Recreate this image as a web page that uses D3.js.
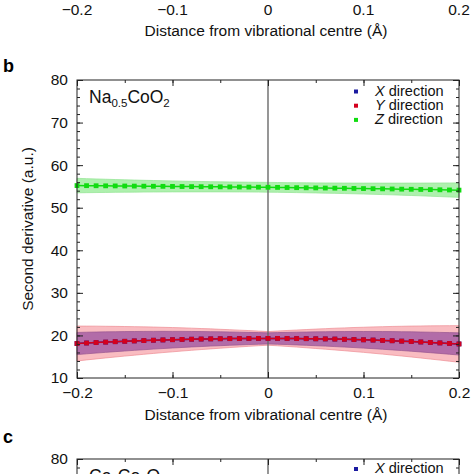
<!DOCTYPE html>
<html><head><meta charset="utf-8">
<script src="https://cdn.jsdelivr.net/npm/d3@7"></script>
<style>
html,body{margin:0;padding:0;background:#fff;}
svg{display:block;font-family:"Liberation Sans",Arial,Helvetica,sans-serif;}
</style></head>
<body>
<svg id="chart" width="474" height="474"></svg>
<script>
// ---- data (panel b: Na0.5CoO2) ----
const displacement = [-0.20,-0.19,-0.18,-0.17,-0.16,-0.15,-0.14,-0.13,-0.12,-0.11,-0.10,-0.09,-0.08,-0.07,-0.06,-0.05,-0.04,-0.03,-0.02,-0.01,0.00,
  0.01,0.02,0.03,0.04,0.05,0.06,0.07,0.08,0.09,0.10,0.11,0.12,0.13,0.14,0.15,0.16,0.17,0.18,0.19,0.20];
const xDirection = [18.10,18.22,18.33,18.43,18.53,18.62,18.71,18.79,18.87,18.94,19.00,19.06,19.11,19.15,19.19,19.22,19.25,19.27,19.29,19.30,19.30,
  19.30,19.29,19.27,19.24,19.21,19.18,19.14,19.09,19.04,18.97,18.91,18.83,18.75,18.66,18.57,18.46,18.35,18.24,18.12,18.00];
const yDirection = [18.10,18.22,18.33,18.43,18.53,18.62,18.71,18.79,18.87,18.94,19.00,19.06,19.11,19.15,19.19,19.22,19.25,19.27,19.29,19.30,19.30,
  19.30,19.29,19.27,19.24,19.21,19.18,19.14,19.09,19.04,18.97,18.91,18.83,18.75,18.66,18.57,18.46,18.35,18.24,18.12,18.00];
const zDirection = [55.20,55.18,55.16,55.14,55.12,55.10,55.08,55.06,55.04,55.02,55.00,54.98,54.96,54.94,54.92,54.90,54.88,54.86,54.84,54.82,54.80,
  54.77,54.74,54.71,54.68,54.65,54.62,54.59,54.56,54.53,54.50,54.47,54.43,54.40,54.36,54.33,54.29,54.25,54.21,54.17,54.13];
const xError = [2.60,2.54,2.47,2.41,2.34,2.28,2.21,2.15,2.08,2.02,1.95,1.89,1.82,1.76,1.69,1.63,1.56,1.50,1.43,1.37,1.30,
  1.37,1.43,1.50,1.56,1.63,1.69,1.76,1.82,1.89,1.95,2.02,2.08,2.15,2.21,2.28,2.34,2.41,2.47,2.54,2.60];
const yError = [4.10,3.97,3.85,3.72,3.60,3.47,3.35,3.22,3.10,2.97,2.85,2.72,2.60,2.47,2.35,2.22,2.10,1.97,1.85,1.72,1.60,
  1.73,1.87,2.00,2.14,2.28,2.41,2.55,2.68,2.82,2.95,3.09,3.22,3.36,3.49,3.63,3.76,3.90,4.03,4.17,4.30];
const zError = [1.70,1.65,1.60,1.55,1.50,1.46,1.42,1.38,1.35,1.32,1.29,1.26,1.24,1.22,1.20,1.18,1.17,1.16,1.15,1.15,1.15,
  1.15,1.15,1.16,1.17,1.18,1.20,1.22,1.24,1.26,1.29,1.32,1.35,1.38,1.42,1.46,1.50,1.55,1.60,1.65,1.70];
const xTicks = [-0.2,-0.1,0,0.1,0.2];
const yTicks = [10,20,30,40,50,60,70,80];
const legendLabels = ["X","Y","Z"];

// ---- layout ----
const FS = 15.5;
const svg = d3.select("#chart");
const L = 77, R = 459, T = 80, B = 378;
const x = d3.scaleLinear().domain([-0.2,0.2]).range([L,R]);
const y = d3.scaleLinear().domain([10,80]).range([B,T]);
const fmtX = d => d === 0 ? "0" : d3.format(".1f")(d);
const minorX = d3.range(-0.2,0.2001,0.05).map(v=>+v.toFixed(2));
const minorY = d3.range(10,80.01,2);

// ---- panel a remnants (top) ----
svg.append("g").selectAll("text").data(xTicks).join("text")
  .attr("x", d=>x(d)).attr("y", 15).attr("text-anchor","middle")
  .attr("font-size",FS).attr("fill","#111").text(fmtX);
svg.append("text").attr("x",266).attr("y",36).attr("text-anchor","middle")
  .attr("font-size",FS).attr("fill","#111").text("Distance from vibrational centre (Å)");

// ---- panel b ----
svg.append("text").attr("x",3).attr("y",72).attr("font-size",18).attr("font-weight","bold").text("b");
const gb = svg.append("g");

// bands
const bandArea = (vals, errs) => d3.area()
  .x((d,i)=>x(displacement[i])).y0((d,i)=>y(vals[i]-errs[i])).y1((d,i)=>y(vals[i]+errs[i]));
gb.append("path").datum(yDirection).attr("d", bandArea(yDirection,yError))
  .attr("fill","#f9bcc1").attr("stroke","#ee8c94").attr("stroke-width",0.7);
gb.append("path").datum(xDirection).attr("d", bandArea(xDirection,xError))
  .attr("fill","#b26ca8").attr("stroke","#96558f").attr("stroke-width",0.7);
gb.append("path").datum(zDirection).attr("d", bandArea(zDirection,zError))
  .attr("fill","#aef0ae").attr("stroke","#90e490").attr("stroke-width",0.7);

// zero line
gb.append("line").attr("x1",x(0)).attr("x2",x(0)).attr("y1",T).attr("y2",B)
  .attr("stroke","#6a6a6a").attr("stroke-width",1.4);

const series = [
  {vals:xDirection, color:"#1a1aa0"},
  {vals:yDirection, color:"#d4001e"},
  {vals:zDirection, color:"#10dc10"}
];
const line = vals => d3.line().x((d,i)=>x(displacement[i])).y((d,i)=>y(vals[i]));
series.forEach(s=>{
  gb.append("path").datum(s.vals).attr("d", line(s.vals)).attr("fill","none")
    .attr("stroke",s.color).attr("stroke-width",1.5);
  gb.append("g").selectAll("rect").data(s.vals).join("rect")
    .attr("x",(d,i)=>x(displacement[i])-2.4).attr("y",d=>y(d)-2.4)
    .attr("width",4.8).attr("height",4.8).attr("fill",s.color);
});

// axes
function axes(g, top, bottom, yScale, labelTicks){
  const tickCol = "#222";
  const minors = minorY.filter(v=>yScale(v) <= 480);
  const majors = yTicks.filter(v=>yScale(v) <= 480);
  g.append("g").attr("transform",`translate(${L},0)`)
    .call(d3.axisLeft(yScale).tickValues(minors).tickSize(-3).tickFormat(""))
    .call(a=>a.select(".domain").remove()).selectAll("line").attr("stroke",tickCol);
  g.append("g").attr("transform",`translate(${L},0)`)
    .call(d3.axisLeft(yScale).tickValues(labelTicks).tickSize(-6).tickPadding(9).tickFormat(d3.format("d")))
    .call(a=>a.select(".domain").remove())
    .call(a=>a.selectAll("text").attr("font-size",FS).attr("fill","#111").attr("font-family","Liberation Sans, Arial, sans-serif"))
    .selectAll("line").attr("stroke",tickCol);
  g.append("g").attr("transform",`translate(${R},0)`)
    .call(d3.axisRight(yScale).tickValues(minors).tickSize(-3).tickFormat(""))
    .call(a=>a.select(".domain").remove()).selectAll("line").attr("stroke",tickCol);
  g.append("g").attr("transform",`translate(${R},0)`)
    .call(d3.axisRight(yScale).tickValues(majors).tickSize(-6).tickFormat(""))
    .call(a=>a.select(".domain").remove()).selectAll("line").attr("stroke",tickCol);
  g.append("g").attr("transform",`translate(0,${top})`)
    .call(d3.axisTop(x).tickValues(minorX).tickSize(-3).tickFormat(""))
    .call(a=>a.select(".domain").remove()).selectAll("line").attr("stroke",tickCol);
  g.append("g").attr("transform",`translate(0,${top})`)
    .call(d3.axisTop(x).tickValues(xTicks).tickSize(-6).tickFormat(""))
    .call(a=>a.select(".domain").remove()).selectAll("line").attr("stroke",tickCol);
  if (bottom !== null){
    g.append("g").attr("transform",`translate(0,${bottom})`)
      .call(d3.axisBottom(x).tickValues(minorX).tickSize(-3).tickFormat(""))
      .call(a=>a.select(".domain").remove()).selectAll("line").attr("stroke",tickCol);
    g.append("g").attr("transform",`translate(0,${bottom})`)
      .call(d3.axisBottom(x).tickValues(xTicks).tickSize(-6).tickPadding(9).tickFormat(fmtX))
      .call(a=>a.select(".domain").remove())
      .call(a=>a.selectAll("text").attr("font-size",FS).attr("fill","#111").attr("font-family","Liberation Sans, Arial, sans-serif"))
      .selectAll("line").attr("stroke",tickCol);
  }
  g.append("rect").attr("x",L).attr("y",top).attr("width",R-L)
    .attr("height",(bottom===null?600:bottom)-top).attr("fill","none").attr("stroke","#222").attr("stroke-width",1);
}
axes(gb, T, B, y, yTicks);

// compound label
function formula(g, xx, yy, parts){
  const t = g.append("text").attr("x",xx).attr("y",yy).attr("font-size",17.5).attr("fill","#111");
  parts.forEach(p=>{
    if (p.sub) t.append("tspan").attr("font-size",11.5).attr("dy",4).text(p.t);
    else t.append("tspan").attr("dy",p.back?-4:0).text(p.t);
  });
}
formula(gb, 89, 102.7, [{t:"Na"},{t:"0.5",sub:true},{t:"CoO",back:true},{t:"2",sub:true}]);

// legend
const legColors = ["#1a1aa0","#d4001e","#10dc10"];
const leg = gb.append("g");
legendLabels.forEach((lab,i)=>{
  const yy = 96 + i*14.2;
  leg.append("rect").attr("x",354).attr("y",yy-6.5).attr("width",4).attr("height",4).attr("fill",legColors[i]);
  const t = leg.append("text").attr("x",375).attr("y",yy).attr("font-size",14.5).attr("fill","#111");
  t.append("tspan").attr("font-style","italic").text(lab);
  t.append("tspan").text(" direction");
});

// axis titles
svg.append("text").attr("x",266).attr("y",420).attr("text-anchor","middle")
  .attr("font-size",FS).attr("fill","#111").text("Distance from vibrational centre (Å)");
svg.append("text").attr("transform","translate(33,229) rotate(-90)").attr("text-anchor","middle")
  .attr("font-size",FS).attr("fill","#111").text("Second derivative (a.u.)");

// ---- panel c (top part only visible) ----
svg.append("text").attr("x",3).attr("y",443).attr("font-size",18).attr("font-weight","bold").text("c");
const Tc = 459;
const yc = d3.scaleLinear().domain([10,80]).range([Tc+298,Tc]);
const gc = svg.append("g");
gc.append("line").attr("x1",x(0)).attr("x2",x(0)).attr("y1",Tc).attr("y2",474)
  .attr("stroke","#6a6a6a").attr("stroke-width",1.4);
axes(gc, Tc, null, yc, [80]);
formula(gc, 89, Tc+22.7, [{t:"Ca"},{t:"3",sub:true},{t:"Co",back:true},{t:"4",sub:true},{t:"O",back:true},{t:"9",sub:true}]);
gc.append("rect").attr("x",354).attr("y",467).attr("width",4).attr("height",4).attr("fill",legColors[0]);
const tc = gc.append("text").attr("x",375).attr("y",473).attr("font-size",14.5).attr("fill","#111");
tc.append("tspan").attr("font-style","italic").text("X");
tc.append("tspan").text(" direction");
</script>
</body></html>
